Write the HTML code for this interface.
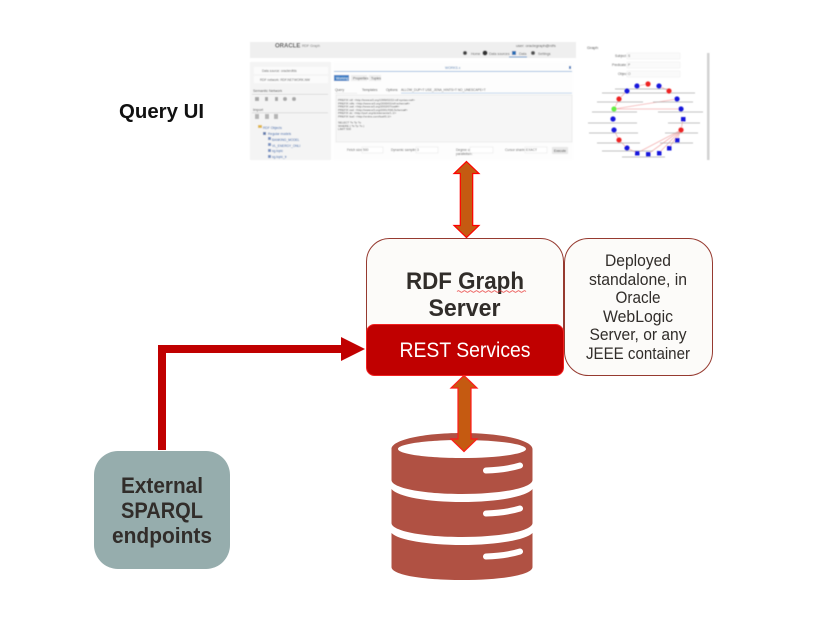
<!DOCTYPE html>
<html><head><meta charset="utf-8"><style>
html,body{margin:0;padding:0;background:#fff;width:833px;height:619px;overflow:hidden}
svg{display:block}
text{font-family:"Liberation Sans",sans-serif}
</style></head><body>
<svg width="833" height="619" viewBox="0 0 833 619" xmlns="http://www.w3.org/2000/svg">
<defs><filter id="b" x="-5%" y="-5%" width="110%" height="110%"><feGaussianBlur stdDeviation="0.5"/></filter></defs>
<rect width="833" height="619" fill="#fff"/>

<text x="119" y="118" font-size="20" font-weight="bold" fill="#111" textLength="85" lengthAdjust="spacingAndGlyphs">Query UI</text>

<!-- screenshot -->
<g filter="url(#b)">
<rect x="250" y="42" width="326" height="16" fill="#efefef"/>
<rect x="250" y="62" width="81" height="98" fill="#f4f4f4"/>
<text x="275" y="47.500" font-size="6" font-weight="bold" fill="#444">ORACLE</text>
<text x="302" y="47" font-size="3.500" fill="#777">RDF Graph</text>
<text x="516" y="47" font-size="3.800" fill="#555">user: oraclegraph@rdfs</text>
<circle cx="465" cy="53" r="2" fill="#444"/><text x="471" y="55" font-size="3.500" fill="#666">Home</text>
<circle cx="485" cy="53" r="2.500" fill="#333"/><text x="489" y="55" font-size="3.500" fill="#666">Data sources</text>
<rect x="512" y="51" width="4" height="4" fill="#2c6fb5"/><text x="519" y="55" font-size="3.500" fill="#666">Data</text>
<rect x="509" y="56.500" width="18" height="1" fill="#6a9fd0"/>
<circle cx="533" cy="53" r="2" fill="#555"/><text x="538" y="55" font-size="3.500" fill="#666">Settings</text>

<rect x="254" y="67" width="74" height="7" fill="#fbfbfb"/>
<rect x="254" y="76" width="74" height="7" fill="#fbfbfb"/>
<text x="262" y="72" font-size="3.200" fill="#666">Data source: oraclerdfds</text>
<text x="260" y="81" font-size="3.200" fill="#666">RDF network: RDF.NETWORK.NW</text>
<text x="253" y="92" font-size="3.600" fill="#555">Semantic Network</text>
<rect x="252" y="94" width="76" height="0.600" fill="#ccc"/>
<g fill="#a8a8a8"><rect x="255" y="97" width="4" height="4"/><rect x="265" y="97" width="3" height="4"/><rect x="275" y="97" width="3" height="4"/><circle cx="285" cy="99" r="2"/><circle cx="294" cy="99" r="2"/></g>
<text x="253" y="111" font-size="3.600" fill="#555">Import</text>
<rect x="252" y="112.500" width="76" height="0.600" fill="#ccc"/>
<g fill="#b5b5b5"><rect x="255" y="114" width="4" height="5"/><rect x="265" y="114" width="4" height="5"/><rect x="274" y="114" width="4" height="5"/></g>
<rect x="258" y="125" width="4" height="3" fill="#e0b84c"/>
<text x="263" y="129" font-size="3.300" fill="#3a66aa">RDF Objects</text>
<rect x="263" y="132" width="3" height="3" fill="#667fb0"/>
<text x="268" y="135" font-size="3.300" fill="#3a66aa">Regular models</text>
<g fill="#7d95c4"><rect x="268" y="137" width="3" height="3"/><rect x="268" y="143" width="3" height="3"/><rect x="268" y="149" width="3" height="3"/><rect x="268" y="155" width="3" height="3"/></g>
<g font-size="3.200" fill="#3a66aa"><text x="272" y="141">BANKING_MODEL</text><text x="272" y="147">VL_ENERGY_ONLI</text><text x="272" y="152">sg.topic</text><text x="272" y="158">sg.topic_tr</text></g>

<rect x="333" y="62" width="240" height="98" fill="#fdfdfd"/>
<text x="445" y="69" font-size="3.400" fill="#5b85b5">WORKS.x</text>
<rect x="334" y="71" width="238" height="0.800" fill="#8db4da"/>
<rect x="569" y="66" width="2" height="3" fill="#4a7fc0"/>
<rect x="334" y="75" width="15" height="6" fill="#3d7fc4"/>
<text x="336" y="79.500" font-size="3.400" fill="#fff">Working</text>
<rect x="351" y="75" width="16" height="6" fill="#eee"/><text x="353" y="79.500" font-size="3.400" fill="#555">Properties</text>
<rect x="369" y="75" width="12" height="6" fill="#eee"/><text x="371" y="79.500" font-size="3.400" fill="#555">Tuples</text>
<text x="335" y="91" font-size="3.400" fill="#555">Query</text><rect x="335" y="93" width="22" height="0.500" fill="#ddd"/>
<text x="362" y="91" font-size="3.400" fill="#555">Templates</text>
<text x="386" y="91" font-size="3.400" fill="#555">Options</text>
<text x="401" y="91" font-size="3.200" fill="#555">ALLOW_DUP=T USE_JENA_HINTS=T NO_UNESCAPE=T</text>
<rect x="401" y="92.800" width="171" height="0.600" fill="#9bbde0"/>
<rect x="336" y="95" width="236" height="47" fill="#f6f6f6" stroke="#e4e4e4" stroke-width="0.600"/>
<g font-size="2.900" fill="#555">
<text x="338" y="101">PREFIX rdf: &lt;http://www.w3.org/1999/02/22-rdf-syntax-ns#&gt;</text>
<text x="338" y="104.300">PREFIX rdfs: &lt;http://www.w3.org/2000/01/rdf-schema#&gt;</text>
<text x="338" y="107.600">PREFIX owl: &lt;http://www.w3.org/2002/07/owl#&gt;</text>
<text x="338" y="110.900">PREFIX xsd: &lt;http://www.w3.org/2001/XMLSchema#&gt;</text>
<text x="338" y="114.200">PREFIX dc: &lt;http://purl.org/dc/elements/1.1/&gt;</text>
<text x="338" y="117.500">PREFIX foaf: &lt;http://xmlns.com/foaf/0.1/&gt;</text>
<text x="338" y="123.500">SELECT ?s ?p ?o</text>
<text x="338" y="126.800">WHERE { ?s ?p ?o }</text>
<text x="338" y="130.100">LIMIT 500</text>
</g>
<g font-size="3.300" fill="#666">
<text x="347" y="151">Fetch size:</text><rect x="362" y="147" width="21" height="6" fill="#fff" stroke="#e5e5e5" stroke-width="0.500"/><text x="363" y="151">500</text>
<text x="391" y="151">Dynamic sampling:</text><rect x="416" y="147" width="22" height="6" fill="#fff" stroke="#e5e5e5" stroke-width="0.500"/><text x="417" y="151">3</text>
<text x="456" y="151">Degree of</text><text x="456" y="155">parallelism:</text><rect x="470" y="147" width="23" height="6" fill="#fff" stroke="#e5e5e5" stroke-width="0.500"/>
<text x="505" y="151">Cursor sharing:</text><rect x="525" y="147" width="22" height="6" fill="#fff" stroke="#e5e5e5" stroke-width="0.500"/><text x="526" y="151">EXACT</text>
</g>
<rect x="552" y="147" width="16" height="7" fill="#e8e8e8"/><text x="554" y="152" font-size="3.300" fill="#444">Execute</text>

<text x="587" y="49" font-size="4" fill="#555">Graph</text>
<g font-size="3.300" fill="#666">
<text x="615" y="57">Subject:</text><rect x="627" y="53" width="53" height="6" fill="#fafafa" stroke="#eee" stroke-width="0.500"/><text x="628" y="57">S</text>
<text x="612" y="66">Predicate:</text><rect x="627" y="62" width="53" height="6" fill="#fafafa" stroke="#eee" stroke-width="0.500"/><text x="628" y="66">P</text>
<text x="618" y="75">Object:</text><rect x="627" y="71" width="53" height="6" fill="#fafafa" stroke="#eee" stroke-width="0.500"/><text x="628" y="75">O</text>
</g>
<rect x="707" y="53" width="2.500" height="107" fill="#d2d2d2"/>

<g stroke="#f3b3b3" stroke-width="0.800" fill="none">
<path d="M614 109L677 99M614 109L681 109M614 109L619 99M619 99L627 91M637 86L648 84M659 86L669 91M614 130L619 140L627 148L637 153M681 130L637 153M681 130L648 154M681 130L659 153M681 130L669 148M681 130L677 140M681 130L683 119"/>
</g>
<g stroke="#adadad" stroke-width="0.700">
<path d="M615 89H670M602 93H695M597 102H643M653 102H693M592 112H637M658 112H703M588 123H637M668 123H700M589 133H638M665 133H698M597 143H640M660 143H693M602 151H653M622 157H665"/>
</g>
<g fill="#1212dd">
<circle cx="637" cy="86" r="2.600"/><circle cx="659" cy="86" r="2.600"/><circle cx="627" cy="91" r="2.600"/><circle cx="677" cy="99" r="2.600"/><circle cx="681" cy="109" r="2.600"/><circle cx="613" cy="119" r="2.600"/><circle cx="614" cy="130" r="2.600"/><circle cx="627" cy="148" r="2.600"/>
<rect x="681" y="117" width="4.500" height="4.500"/><rect x="675" y="138" width="4.500" height="4.500"/><rect x="667" y="146" width="4.500" height="4.500"/><rect x="635" y="151" width="4.500" height="4.500"/><rect x="646" y="152" width="4.500" height="4.500"/><rect x="657" y="151" width="4.500" height="4.500"/>
</g>
<g fill="#ee2222"><circle cx="648" cy="84" r="2.600"/><circle cx="669" cy="91" r="2.600"/><circle cx="619" cy="99" r="2.600"/><circle cx="681" cy="130" r="2.600"/><circle cx="619" cy="140" r="2.600"/></g>
<circle cx="614" cy="109" r="2.600" fill="#66ee44"/>
</g>

<!-- top arrow -->
<path d="M466.500 161.500L479 173.500H472.700V225.500H479L466.500 237.500L454 225.500H460.300V173.500H454Z" fill="#c55a11" stroke="#ff0000" stroke-width="1.200"/>

<!-- server -->
<rect x="366.500" y="238.500" width="197" height="136.500" rx="23" ry="23" fill="#fcfbf9" stroke="#963a30" stroke-width="1"/>
<rect x="564.500" y="238.500" width="148" height="137" rx="24" ry="24" fill="#fcfbf9" stroke="#963a30" stroke-width="1"/>
<rect x="366.500" y="324.500" width="197" height="51" rx="8" ry="8" fill="#c00000" stroke="#f02020" stroke-width="1"/>

<g text-anchor="middle" fill="#312d2a" font-weight="bold" font-size="24">
<text x="465" y="289" textLength="118" lengthAdjust="spacingAndGlyphs">RDF Graph</text>
<text x="464.500" y="316" textLength="72" lengthAdjust="spacingAndGlyphs">Server</text>
</g>
<path d="M457 291.500q1.500-1.500 3 0t3 0t3 0t3 0t3 0t3 0t3 0t3 0t3 0t3 0t3 0t3 0t3 0t3 0t3 0t3 0t3 0t3 0t3 0t3 0t3 0t3 0t3 0" fill="none" stroke="#e83030" stroke-width="0.700"/>
<text x="465" y="357" text-anchor="middle" font-size="21" fill="#fff" textLength="131" lengthAdjust="spacingAndGlyphs">REST Services</text>

<g text-anchor="middle" fill="#312d2a" font-size="17">
<text x="638" y="266" textLength="66" lengthAdjust="spacingAndGlyphs">Deployed</text>
<text x="638" y="285" textLength="98" lengthAdjust="spacingAndGlyphs">standalone, in</text>
<text x="638" y="303" textLength="45" lengthAdjust="spacingAndGlyphs">Oracle</text>
<text x="638" y="322" textLength="70" lengthAdjust="spacingAndGlyphs">WebLogic</text>
<text x="638" y="340" textLength="97" lengthAdjust="spacingAndGlyphs">Server, or any</text>
<text x="638" y="359" textLength="104" lengthAdjust="spacingAndGlyphs">JEEE container</text>
</g>

<!-- database -->
<g fill="#b05143">
<path fill-rule="evenodd" d="M391.500 449C391.500 440 423 433 462 433S532.500 440 532.500 449V480C532.500 488 501 494 462 494S391.500 488 391.500 480ZM398 449C398 454 427 458 462 458S526 454 526 449C526 444 497 440 462 440S398 444 398 449Z"/>
<path d="M391.500 489C398 497 428 502 462 502S526 497 532.500 489V523C532.500 531 501 537 462 537S391.500 531 391.500 523Z"/>
<path d="M391.500 533C398 540 428 545 462 545S526 540 532.500 533V567C532.500 575 501 580 462 580S391.500 575 391.500 567Z"/>
</g>
<g fill="none" stroke="#fff" stroke-width="6" stroke-linecap="round">
<path d="M486 470.500C500 470 512 468 520 465.500"/>
<path d="M486 513.500C500 513 512 511 520 508.500"/>
<path d="M486 556.500C500 556 512 554 520 551.500"/>
</g>

<!-- bottom arrow -->
<path d="M464 375.500L477 388H471V439H477L464 451.500L451 439H458V388H451Z" fill="#c55a11" stroke="#ff1a1a" stroke-width="1.200"/>

<!-- connector -->
<path d="M162 450V349H342" fill="none" stroke="#c00000" stroke-width="8"/>
<path d="M341 337L365 349L341 361Z" fill="#c00000"/>

<!-- external -->
<rect x="94" y="451" width="136" height="118" rx="24" ry="24" fill="#96adad"/>
<g text-anchor="middle" fill="#312d2a" font-weight="bold" font-size="22">
<text x="162" y="493" textLength="82" lengthAdjust="spacingAndGlyphs">External</text>
<text x="162" y="518" textLength="82" lengthAdjust="spacingAndGlyphs">SPARQL</text>
<text x="162" y="543" textLength="100" lengthAdjust="spacingAndGlyphs">endpoints</text>
</g>
</svg>
</body></html>
